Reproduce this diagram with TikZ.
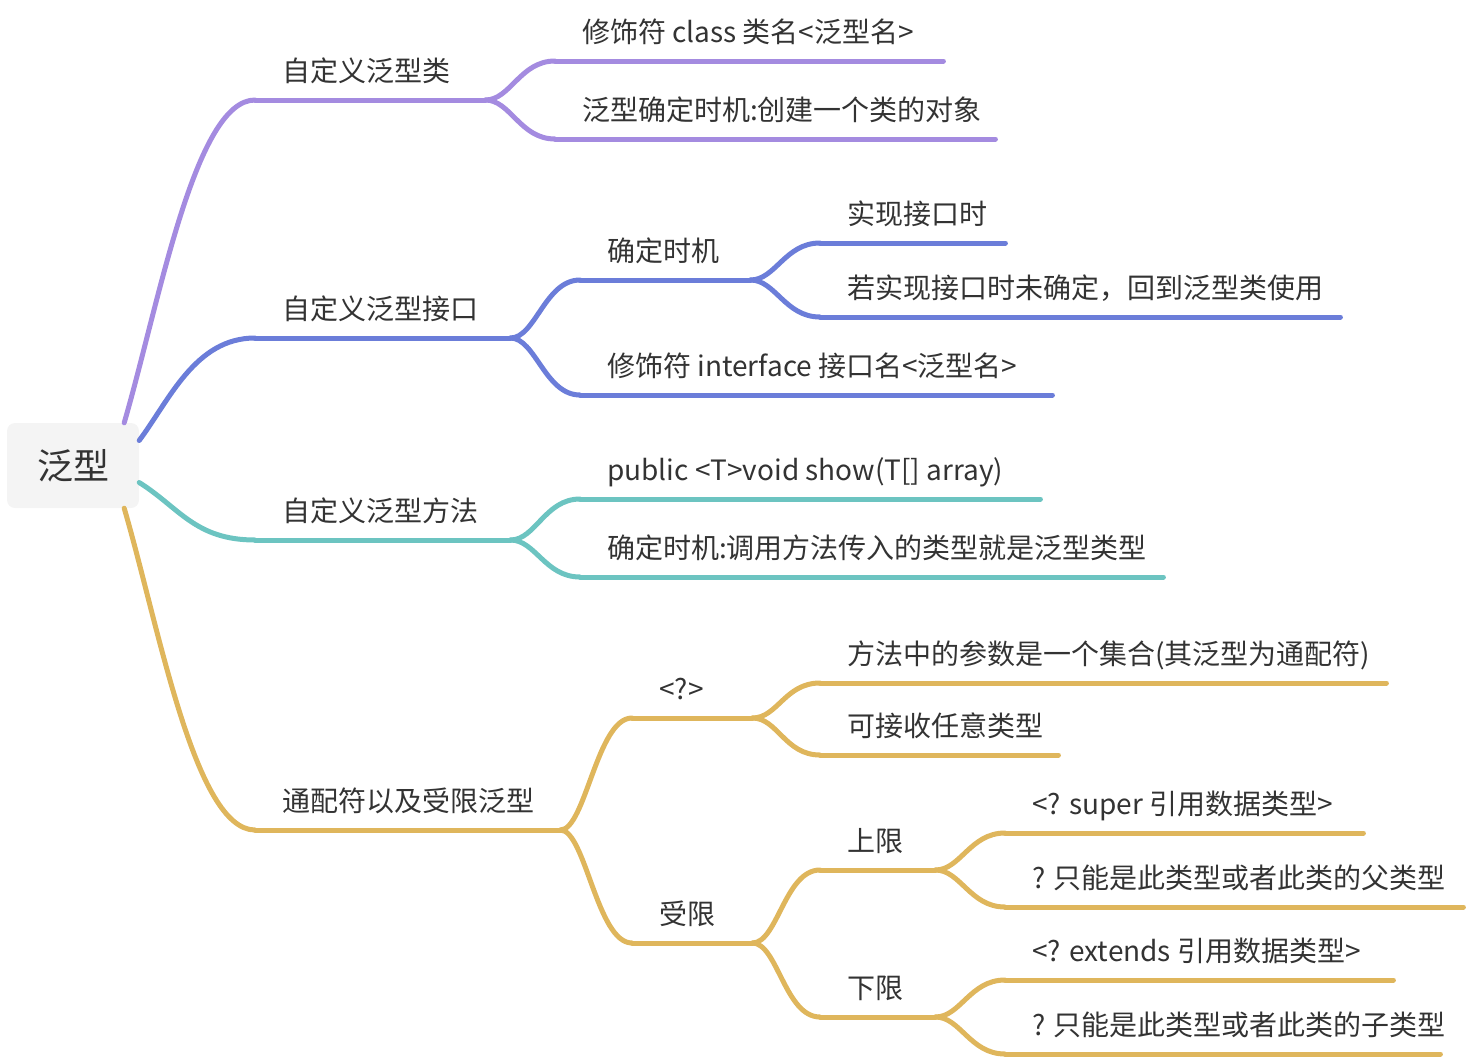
\documentclass[tikz,border=0pt]{standalone}
\usepackage{fontspec}
\setmainfont{Noto Sans CJK SC}
\definecolor{cA}{HTML}{A48BE0}
\definecolor{cB}{HTML}{6B7DD9}
\definecolor{cC}{HTML}{6CC4C1}
\definecolor{cD}{HTML}{DFB65C}
\definecolor{txt}{HTML}{333333}
\definecolor{rootbg}{HTML}{F4F4F4}

\begin{document}
\begin{tikzpicture}[x=1pt,y=-1pt,
  topic/.style={anchor=south west,inner xsep=27pt,inner ysep=0pt,
    text height=21pt,text depth=18pt,text=txt,
    font=\fontsize{28}{34}\selectfont,
    execute at begin node={\hbox to #1\bgroup},
    execute at end node={\hfil\egroup}},
  branch/.style={draw=#1,line width=5pt,line cap=round}]
  \useasboundingbox (0,0) rectangle (1468,1058);

  % central topic
  \node[fill=rootbg,rounded corners=8pt,minimum width=132pt,minimum height=85pt,
    text=txt,font=\fontsize{36}{40}\selectfont] (root) at (73,465.5) {泛型};

  % first level
  \node[topic=176pt] (a) at (255,100) {自定义泛型类};
  \node[topic=201pt] (b) at (255,338) {自定义泛型接口};
  \node[topic=201pt] (c) at (255,540) {自定义泛型方法};
  \node[topic=251pt] (d) at (255,830) {通配符以及受限泛型};

  % second level
  \node[topic=334pt] (a1) at (555,61)  {修饰符 class 类名<泛型名>};
  \node[topic=386pt] (a2) at (555,139) {泛型确定时机:创建一个类的对象};
  \node[topic=116pt] (b1) at (580,280) {确定时机};
  \node[topic=418pt] (b2) at (580,395) {修饰符 interface 接口名<泛型名>};
  \node[topic=406pt] (c1) at (580,499) {public <T>void show(T[] array)};
  \node[topic=529pt] (c2) at (580,577) {确定时机:调用方法传入的类型就是泛型类型};
  \node[topic=66pt]  (d1) at (632,718) {<?>};
  \node[topic=66pt]  (d2) at (632,943) {受限};

  % third level
  \node[topic=131pt] (b11) at (820,243) {实现接口时};
  \node[topic=466pt] (b12) at (820,317) {若实现接口时未确定，回到泛型类使用};
  \node[topic=512pt] (d11) at (820,683) {方法中的参数是一个集合(其泛型为通配符)};
  \node[topic=184pt] (d12) at (820,755) {可接收任意类型};
  \node[topic=61pt]  (d21) at (820,870) {上限};
  \node[topic=61pt]  (d22) at (820,1017) {下限};

  % fourth level
  \node[topic=304pt] (d211) at (1005,833)  {<? super 引用数据类型>};
  \node[topic=404pt] (d212) at (1005,907)  {? 只能是此类型或者此类的父类型};
  \node[topic=334pt] (d221) at (1005,980)  {<? extends 引用数据类型>};
  \node[topic=381pt] (d222) at (1005,1054) {? 只能是此类型或者此类的子类型};

  % underlines
  \foreach \n/\c in {a/cA,a1/cA,a2/cA,b/cB,b1/cB,b2/cB,b11/cB,b12/cB,
      c/cC,c1/cC,c2/cC,d/cD,d1/cD,d2/cD,d11/cD,d12/cD,d21/cD,d22/cD,
      d211/cD,d212/cD,d221/cD,d222/cD}
    \draw[branch=\c] (\n.south west) -- (\n.south east);

  % branches from the root
  \draw[branch=cA] ([xshift=-15pt]root.north east) .. controls +(35,-120) and +(-60,0) .. (a.south west);
  \draw[branch=cB] ([yshift=25pt]root.east) .. controls +(30,-40) and +(-60,0) .. (b.south west);
  \draw[branch=cC] ([yshift=-17pt]root.east) .. controls +(40,25) and +(-60,0) .. (c.south west);
  \draw[branch=cD] ([xshift=-15pt]root.south east) .. controls +(35,120) and +(-60,0) .. (d.south west);

  % branches between topics
  \foreach \p/\q/\c in {a/a1/cA,a/a2/cA,b/b1/cB,b/b2/cB,b1/b11/cB,b1/b12/cB,
      c/c1/cC,c/c2/cC,d/d1/cD,d/d2/cD,d1/d11/cD,d1/d12/cD,d2/d21/cD,d2/d22/cD,
      d21/d211/cD,d21/d212/cD,d22/d221/cD,d22/d222/cD}
    \draw[branch=\c] (\p.south east) .. controls +(25,0) and +(-35,0) .. (\q.south west);
\end{tikzpicture}
\end{document}
